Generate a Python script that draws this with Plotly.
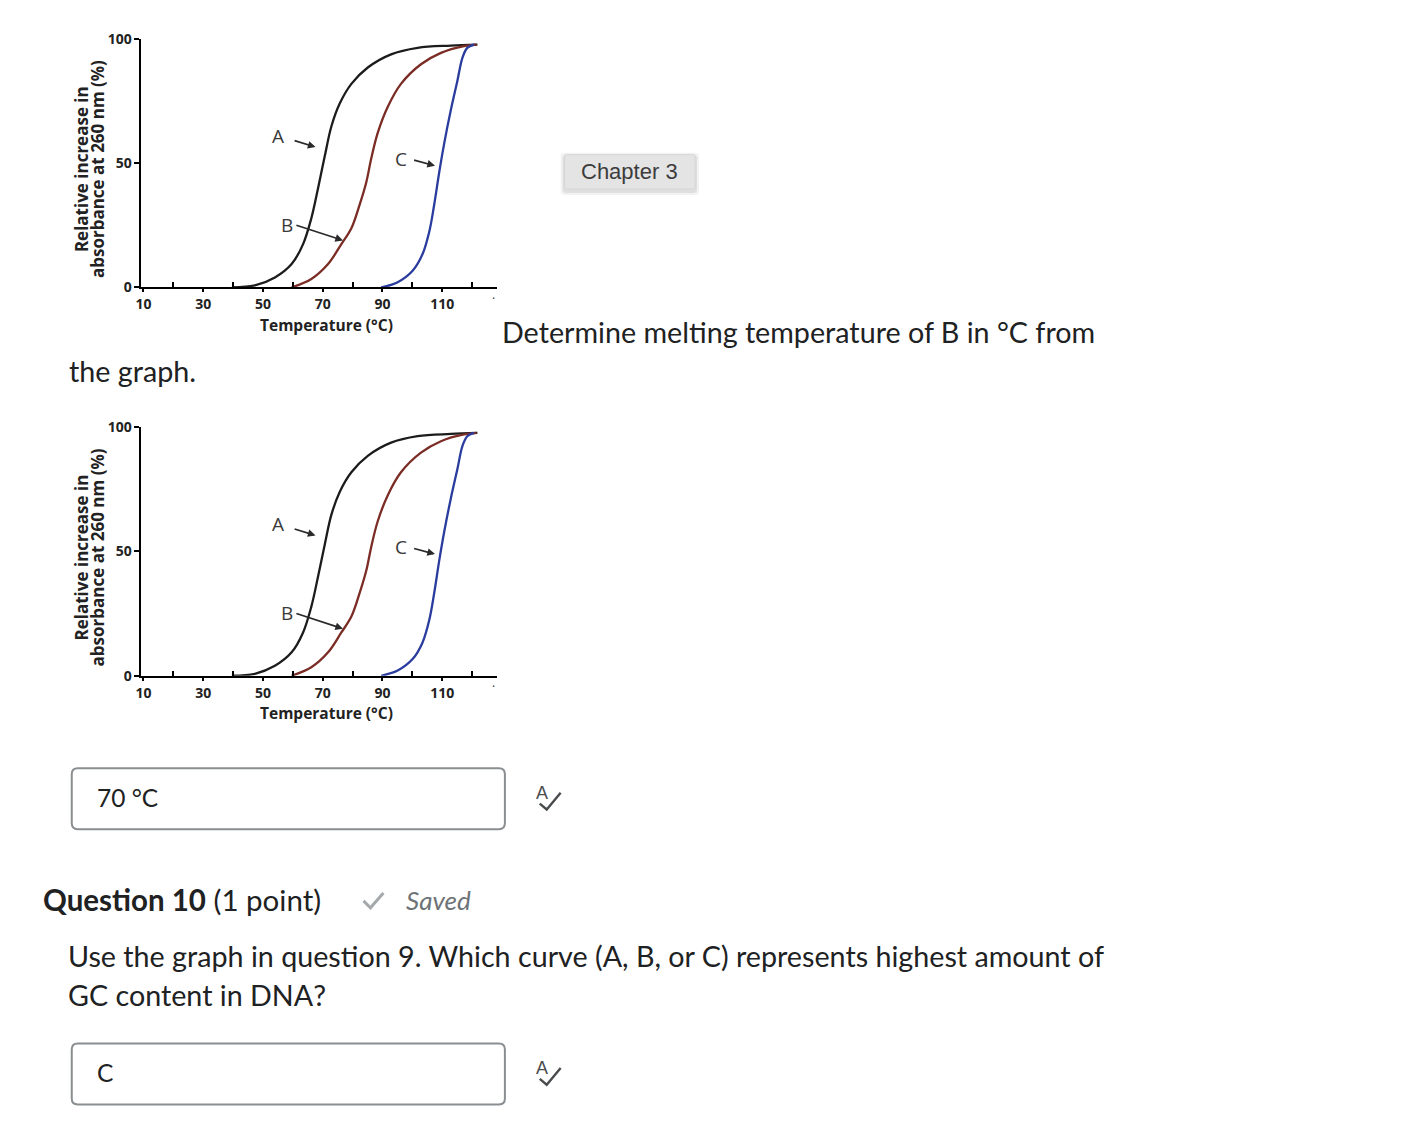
import plotly.graph_objects as go

# the page has an 8px body margin, so the figure is drawn 16px smaller than the window
W, H = 1420, 1146
OFF = 8
FW, FH = W - 2 * OFF, H - 2 * OFF

# values (temperature in C, relative increase in %)
temp_a = [39.6, 47.3, 54, 59.6, 63.4, 66.2, 68.4, 70.7, 72.9, 75.7, 79.6, 85.1, 92.9, 101.8, 112.9, 121.8]
absorb_a = [0, 0.8, 4, 9.4, 17.3, 27.8, 39.6, 52.8, 64.7, 73.9, 81.8, 88.4, 93.7, 96.3, 97.2, 97.6]
temp_b = [59.6, 66.2, 71.8, 76.2, 79.6, 82.3, 84.6, 86.2, 88.4, 91.8, 96.2, 102.9, 109.6, 117.3, 121.5]
absorb_b = [0, 3.4, 9.4, 17.3, 23.8, 33, 42.3, 51.5, 62, 72.6, 81.8, 89.7, 94.3, 97, 97.6]
temp_c = [89.6, 95.1, 100.1, 103.4, 105.7, 107.3, 109, 110.7, 112.9, 115.1, 116.8, 118.4, 120.7]
absorb_c = [0, 2.1, 6.7, 13.3, 22.5, 33, 46.2, 58, 71.3, 83.1, 92.4, 96.3, 97.6]

x_ticks = [10, 30, 50, 70, 90, 110]
y_ticks = [0, 50, 100]
curve_names = ["A", "B", "C"]
curve_colors = ["#1c1c1c", "#7a2c25", "#2a3c9e"]

# label position and pointer (tail -> head) for each curve, in data units
label_pos = [(55.1, 61), (57.9, 25.2), (96.2, 51.8)]
arrow_tail = [(60.1, 59.2), (60.7, 25.2), (100.1, 51.3)]
arrow_head = [(67.6, 56.4), (76.8, 18.9), (107.6, 48.9)]

TEXT = "#202122"
CHART_FONT = "Open Sans"
PAGE_FONT = "Lato"


def px(x, y):
    # screen pixel of the reference page -> paper coordinates
    return (x - OFF) / FW, 1 - (y - OFF) / FH


def rounded_box(x0, y0, x1, y1, r):
    a0, b0 = px(x0, y0)
    a1, b1 = px(x1, y1)
    rx, ry = r / FW, r / FH
    return (f"M {a0+rx},{b0} L {a1-rx},{b0} Q {a1},{b0} {a1},{b0-ry} "
            f"L {a1},{b1+ry} Q {a1},{b1} {a1-rx},{b1} L {a0+rx},{b1} "
            f"Q {a0},{b1} {a0},{b1+ry} L {a0},{b0-ry} Q {a0},{b0} {a0+rx},{b0} Z")


fig = go.Figure()
layout = dict(
    width=FW, height=FH,
    margin=dict(l=0, r=0, t=0, b=0),
    paper_bgcolor="white", plot_bgcolor="rgba(0,0,0,0)",
    showlegend=False,
)
annotations = []
shapes = []


def page_text(x, y, text, size=28.7, color=TEXT, anchor="left", family=PAGE_FONT, angle=0, weight=None):
    a, b = px(x, y)
    font = dict(family=family, size=size, color=color)
    if weight:
        font["weight"] = weight
    annotations.append(dict(x=a, y=b, xref="paper", yref="paper", text=text, showarrow=False,
                            xanchor=anchor, yanchor="middle", textangle=angle, font=font))


curves = [(temp_a, absorb_a), (temp_b, absorb_b), (temp_c, absorb_c)]

for n, top in [(1, 29), (2, 424)]:
    bottom = top + 253
    sfx = "" if n == 1 else str(n)
    xref, yref = "x" + sfx, "y" + sfx
    for i, (tx, ty) in enumerate(curves):
        fig.add_trace(go.Scatter(x=tx, y=ty, mode="lines", name=curve_names[i],
                                 line=dict(color=curve_colors[i], width=2.3, shape="spline", smoothing=1.0),
                                 xaxis=xref, yaxis=yref, hoverinfo="skip"))
    x0, _ = px(136, 0)
    x1, _ = px(493, 0)
    _, yb = px(0, bottom)
    _, yt = px(0, top)
    layout["xaxis" + sfx] = dict(
        domain=[x0, x1], range=[9.33, 128.33], anchor=yref,
        tickmode="array", tickvals=x_ticks, ticks="outside", ticklen=3, tickwidth=1.5, tickcolor="black",
        tickfont=dict(family=CHART_FONT, size=14, color="#222", weight=700),
        minor=dict(ticks="inside", tickmode="linear", tick0=20, dtick=20, ticklen=5,
                   tickwidth=1.5, tickcolor="black"),
        showline=True, linecolor="black", linewidth=2, showgrid=False, zeroline=False,
    )
    layout["yaxis" + sfx] = dict(
        domain=[yb, yt], range=[0, 100], anchor=xref,
        tickmode="array", tickvals=y_ticks, ticks="outside", ticklen=5, tickwidth=1.5,
        tickcolor="black", tickfont=dict(family=CHART_FONT, size=14, color="#222", weight=700),
        showline=True, linecolor="black", linewidth=2, showgrid=False, zeroline=False,
    )
    # axis titles
    page_text(76, top + 133, "Relative increase in", size=17, color="#222",
              anchor="center", family=CHART_FONT, angle=-90, weight=700)
    page_text(92, top + 133, "absorbance at 260 nm (%)", size=17, color="#222",
              anchor="center", family=CHART_FONT, angle=-90, weight=700)
    page_text(322, top + 291, "Temperature (°C)", size=15.5, color="#222",
              anchor="center", family=CHART_FONT, weight=700)
    page_text(490, top + 264, "·", size=12, color="#333", anchor="center", family=CHART_FONT)
    # curve labels with their pointers
    for i in range(3):
        annotations.append(dict(x=label_pos[i][0], y=label_pos[i][1], xref=xref, yref=yref,
                                xanchor="center", yanchor="middle",
                                text=curve_names[i], showarrow=False,
                                font=dict(family=CHART_FONT, size=19, color="#3a3a3a")))
        annotations.append(dict(x=arrow_head[i][0], y=arrow_head[i][1], xref=xref, yref=yref,
                                ax=arrow_tail[i][0], ay=arrow_tail[i][1], axref=xref, ayref=yref,
                                text="", showarrow=True, arrowhead=2, arrowsize=0.9,
                                arrowwidth=1.7, arrowcolor="#2a2a2a"))

# Chapter 3 button
for k, op in [(4, 0.05), (2, 0.08)]:
    shapes.append(dict(type="path", path=rounded_box(561 - k, 147 - k + 2, 692 + k, 182 + k + 2, 4),
                       xref="paper", yref="paper", fillcolor=f"rgba(0,0,0,{op})", line=dict(width=0),
                       layer="below"))
shapes.append(dict(type="path", path=rounded_box(561, 147, 692, 182, 2), xref="paper", yref="paper",
                   fillcolor="#e4e4e4", line=dict(color="#d6d6d6", width=1)))
page_text(626, 164, "Chapter 3", size=22, color="#3c3c3c", anchor="center", family="Liberation Sans")

page_text(496, 327, "Determine melting temperature of B in °C from")
page_text(61, 367, "the graph.")

# answer boxes
for y0, ans in [(771, "70 °C"), (1051, "C")]:
    shapes.append(dict(type="path", path=rounded_box(66, y0, 501, y0 + 62, 6), xref="paper", yref="paper",
                       fillcolor="white", line=dict(color="#8a8e91", width=2)))
    page_text(89, y0 + 30, ans, size=24.5)
    # spell check icon
    page_text(538, y0 + 25, "A", size=18, color="#494c4e", anchor="center", family="Liberation Sans")
    p0, p1, p2 = px(536, y0 + 36), px(543, y0 + 42), px(557, y0 + 25)
    shapes.append(dict(type="path", xref="paper", yref="paper",
                       path=f"M {p0[0]},{p0[1]} L {p1[0]},{p1[1]} L {p2[0]},{p2[1]}",
                       line=dict(color="#494c4e", width=2.4)))

page_text(35, 905, "<b>Question 10</b> (1 point)", size=29.5)
c0, c1, c2 = px(359, 906), px(366, 913), px(379, 898)
shapes.append(dict(type="path", xref="paper", yref="paper",
                   path=f"M {c0[0]},{c0[1]} L {c1[0]},{c1[1]} L {c2[0]},{c2[1]}",
                   line=dict(color="#a5a9ac", width=3)))
page_text(400, 905, "<i>Saved</i>", size=26, color="#6e7376")
page_text(60, 962, "Use the graph in question 9. Which curve (A, B, or C) represents highest amount of")
page_text(60, 1002, "GC content in DNA?")

layout["annotations"] = annotations
layout["shapes"] = shapes
fig.update_layout(layout)

fig.write_html("out.html", config={"displayModeBar": False})
